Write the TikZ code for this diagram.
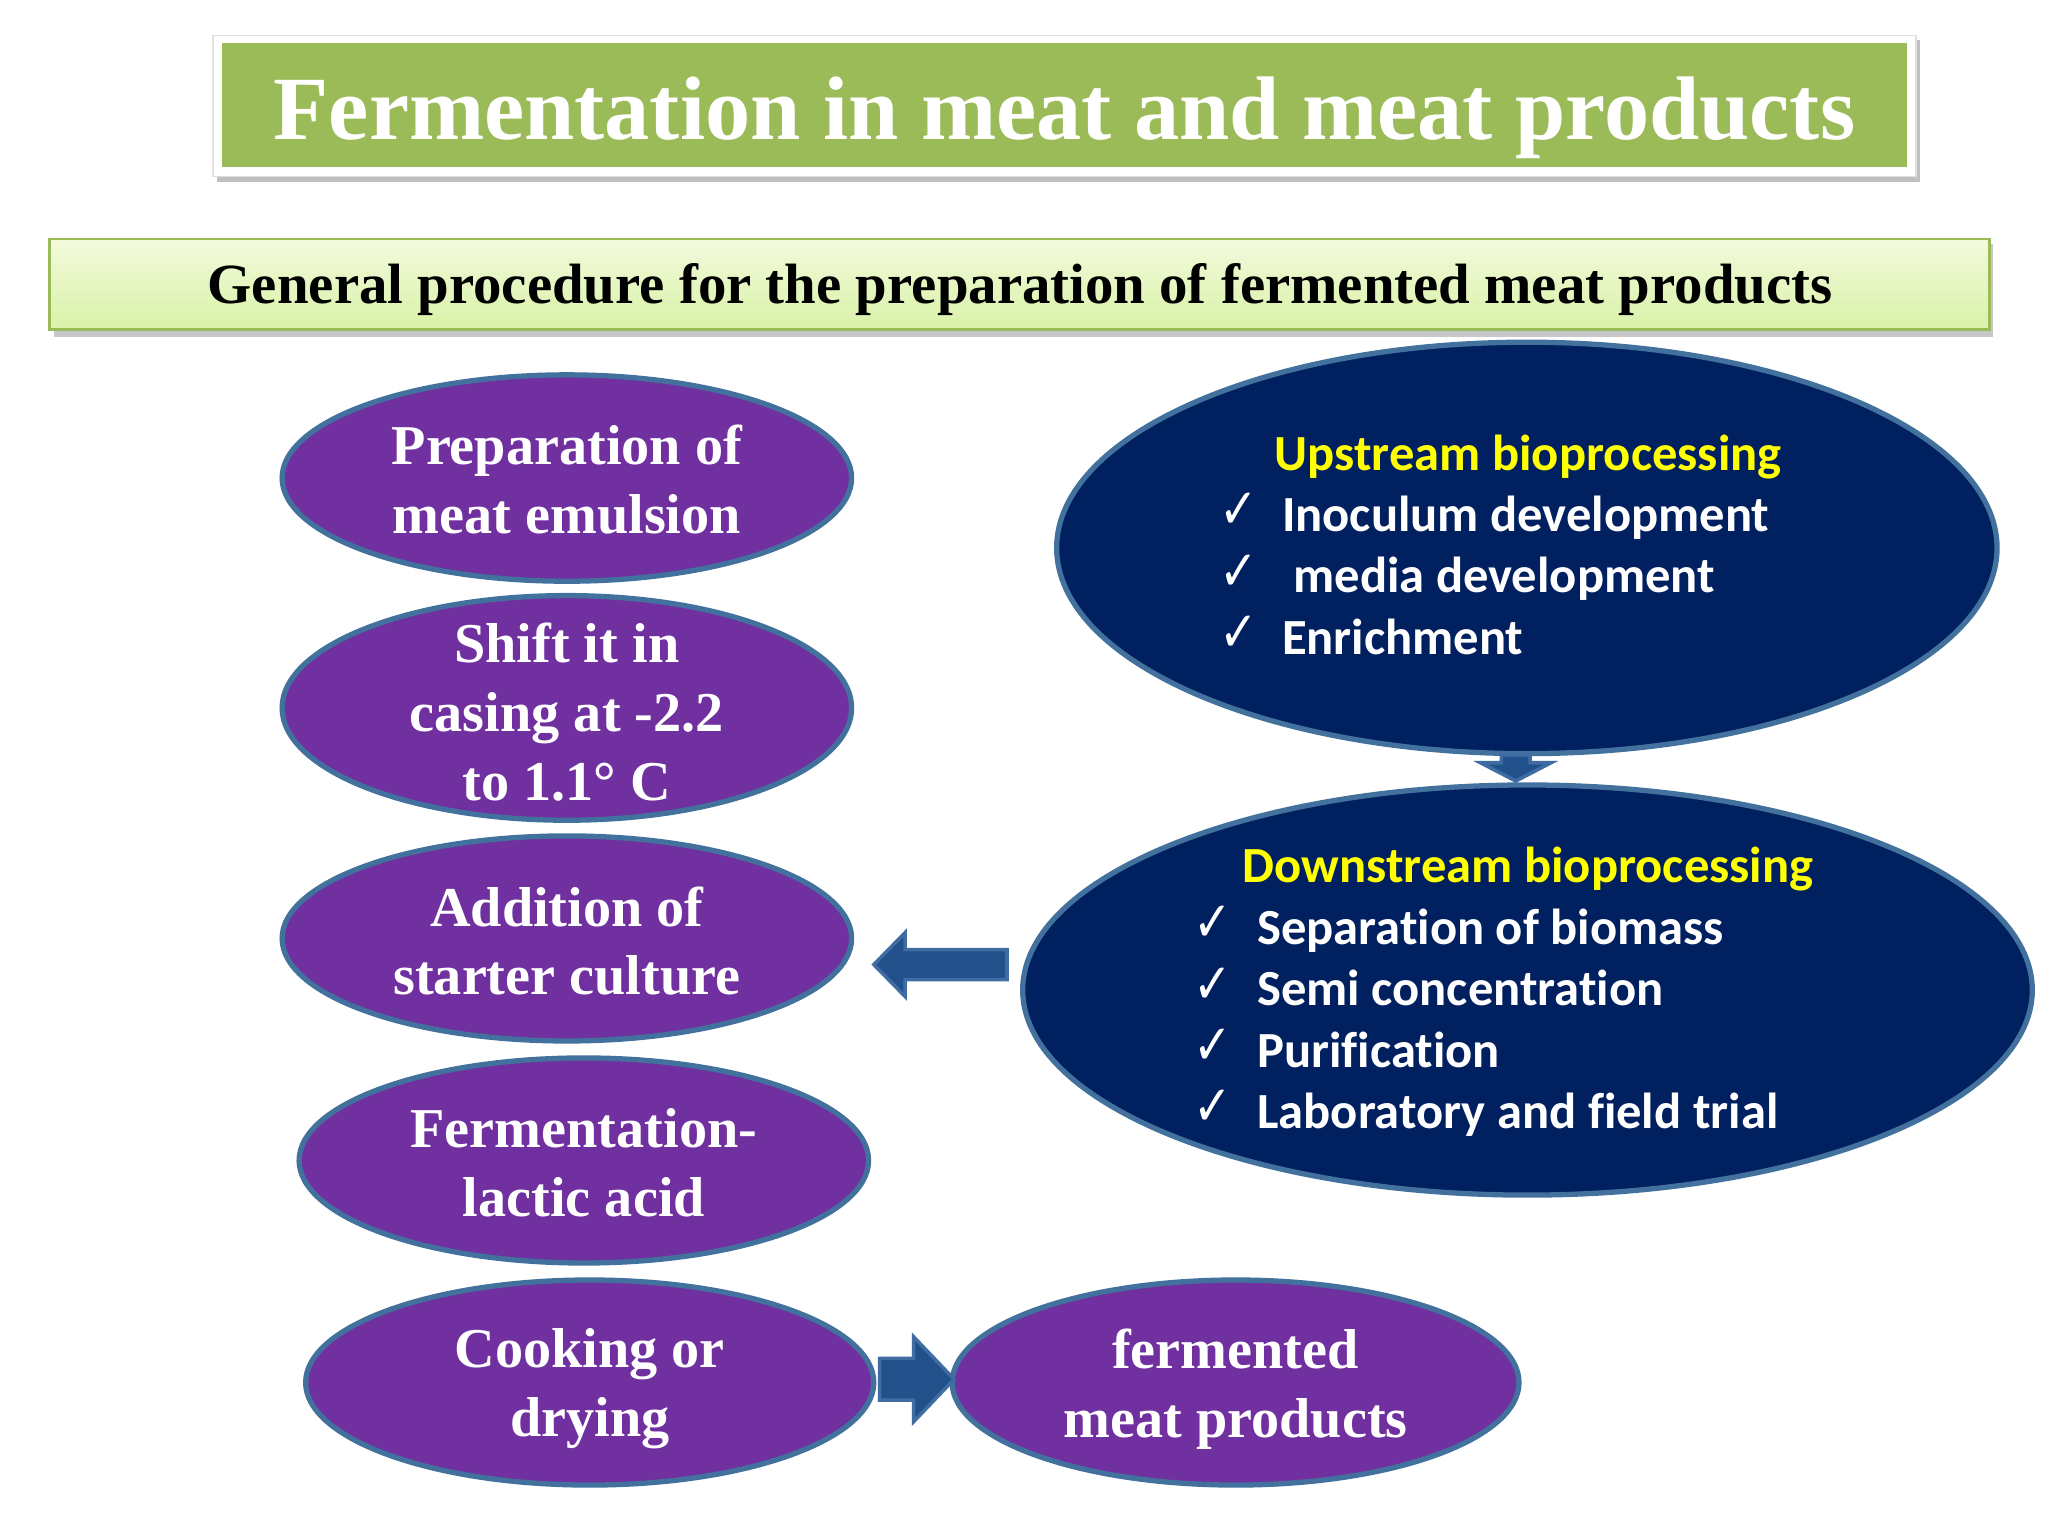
\documentclass[tikz,border=0pt]{standalone}
\usepackage{fontspec}
\setmainfont{Liberation Serif}
\newfontfamily\calib[Ligatures={NoCommon,NoRare,NoContextual}]{Carlito}
\newfontfamily\dejavu{DejaVu Sans}
\usetikzlibrary{shapes.geometric,calc}
\newlength\pxu
\setlength\pxu{0.013061cm}
\definecolor{olivegreen}{HTML}{9BBB59}
\definecolor{purp}{HTML}{7030A0}
\definecolor{navyfill}{HTML}{002060}
\definecolor{edgeblue}{HTML}{41719C}
\definecolor{arfill}{HTML}{22508A}
\definecolor{arborder}{HTML}{3F6CA3}
\definecolor{subtop}{HTML}{F3FADC}
\definecolor{subbot}{HTML}{D9F2A8}
\definecolor{hdryellow}{HTML}{FFFF00}
\begin{document}
\begin{tikzpicture}[x=0.013061cm, y=-0.013061cm,
  pell/.style={ellipse, fill=purp, draw=edgeblue, line width=1.5pt, inner sep=0pt},
  nell/.style={ellipse, fill=navyfill, draw=edgeblue, line width=1.5pt, inner sep=0pt},
  ptext/.style={text=white, font=\fontsize{16}{19.6}\selectfont\bfseries, align=center, inner sep=0pt},
  hdr/.style={text=hdryellow, font=\calib\bfseries\fontsize{14.4}{17}\selectfont, anchor=base, inner sep=0pt},
  item/.style={text=white, font=\calib\bfseries\fontsize{14.4}{17}\selectfont, anchor=base west, inner sep=0pt},
  chk/.style={text=white, font=\dejavu\fontsize{16}{18}\selectfont, anchor=base west, inner sep=0pt, xscale=0.82, transform shape},
  blockarrow/.style={fill=arfill, draw=arborder, line width=1pt, line join=miter}
]
\useasboundingbox (0,0) rectangle (1568,1176);
\fill[white] (0,0) rectangle (1568,1176);

% title
\fill[black!25] (166,31) rectangle (1470,139);
\node[draw=black!12, fill=white, line width=0.4pt, minimum width=1304\pxu, minimum height=108\pxu, inner sep=0pt] (tframe) at (815,81) {};
\node[fill=olivegreen, minimum width=1290\pxu, minimum height=95\pxu, inner sep=0pt] (tbox) at (815,80.5) {};
\node[text=white, font=\fontsize{25.7}{30}\selectfont\bfseries, anchor=base, inner sep=0pt] (title) at (815,107) {Fermentation in meat and meat products};

% subtitle
\fill[black!22] (41,187) rectangle (1526,258);
\node[draw=olivegreen, line width=0.8pt, top color=subtop, bottom color=subbot, minimum width=1485\pxu, minimum height=69\pxu, inner sep=0pt] (sub) at (780.5,217.5) {};
\node[text=black, font=\fontsize{16.17}{19}\selectfont\bfseries, anchor=base, inner sep=0pt] (subt) at (781,232) {General procedure for the preparation of fermented meat products};

% purple ellipses
\node[pell, minimum width=436\pxu, minimum height=158\pxu] (e1) at (434,366) {};
\node[ptext] (e1t) at (434,367) {Preparation of\\meat emulsion};
\node[pell, minimum width=436\pxu, minimum height=172\pxu] (e2) at (434,542) {};
\node[ptext] (e2t) at (434,545) {Shift it in\\casing at -2.2\\to 1.1° C};
\node[pell, minimum width=436\pxu, minimum height=157\pxu] (e3) at (434,718.5) {};
\node[ptext] (e3t) at (434,720.5) {Addition of\\starter culture};
\node[pell, minimum width=436\pxu, minimum height=157\pxu] (e4) at (447,888.5) {};
\node[ptext] (e4t) at (447,890.5) {Fermentation-\\lactic acid};
\node[pell, minimum width=435\pxu, minimum height=157\pxu] (e5) at (451.5,1058.5) {};
\node[ptext] (e5t) at (451.5,1063.5) {Cooking or\\drying};
\node[pell, minimum width=434\pxu, minimum height=157\pxu] (e6) at (946,1058.5) {};
\node[ptext] (e6t) at (946,1063.5) {fermented\\meat products};

% navy ellipses
\node[nell, minimum width=720\pxu, minimum height=315\pxu] (up) at (1169,419.5) {};
\node[hdr] (uph) at (1170,360) {Upstream bioprocessing};
\node[chk] (uc1) at (933,405) {✓};
\node[item] (ui1) at (981,407) {Inoculum development};
\node[chk] (uc2) at (933,452) {✓};
\node[item] (ui2) at (981,454) {\ media development};
\node[chk] (uc3) at (933,499) {✓};
\node[item] (ui3) at (981,501) {Enrichment};

\node[nell, minimum width=773\pxu, minimum height=314\pxu] (dn) at (1169.5,758) {};
\node[hdr] (dnh) at (1170,676) {Downstream bioprocessing};
\node[chk] (dc1) at (913,721) {✓};
\node[item] (di1) at (962,723) {Separation of biomass};
\node[chk] (dc2) at (913,768) {✓};
\node[item] (di2) at (962,770) {Semi concentration};
\node[chk] (dc3) at (913,815) {✓};
\node[item] (di3) at (962,817) {Purification};
\node[chk] (dc4) at (913,862) {✓};
\node[item] (di4) at (962,864) {Laboratory and field trial};

% block arrows
\coordinate (da) at ($(up.south)+(-8.5,-1)$);
\coordinate (db) at ($(dn.north)+(-9,-1)$);
\draw[blockarrow] ($(da)+(-11,0)$) -- ($(db)+(-11,-14)$) -- ($(db)+(-27,-14)$) -- (db)
  -- ($(db)+(27,-14)$) -- ($(db)+(11,-14)$) -- ($(da)+(11,0)$) -- cycle;

\coordinate (la) at ($(dn.west)+(-10,-19.5)$);
\coordinate (lb) at ($(e3.east)+(15,20)$);
\draw[blockarrow] ($(la)+(0,-11.5)$) -- ($(lb)+(24,-11.5)$) -- ($(lb)+(24,-24.5)$) -- (lb)
  -- ($(lb)+(24,24.5)$) -- ($(lb)+(24,11.5)$) -- ($(la)+(0,11.5)$) -- cycle;

\coordinate (ra) at ($(e5.east)+(2.5,-2.5)$);
\coordinate (rb) at ($(e6.west)+(3.5,-2.5)$);
\draw[blockarrow] ($(ra)+(0,-16)$) -- ($(rb)+(-31,-16)$) -- ($(rb)+(-31,-32.5)$) -- (rb)
  -- ($(rb)+(-31,32.5)$) -- ($(rb)+(-31,16)$) -- ($(ra)+(0,16)$) -- cycle;
\end{tikzpicture}
\end{document}
